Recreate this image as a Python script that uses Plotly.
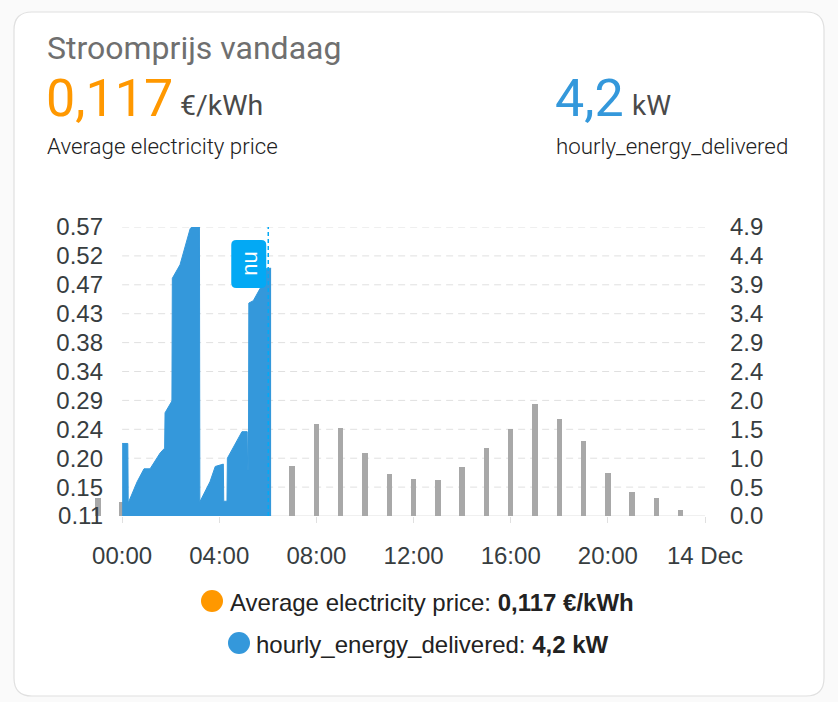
import plotly.graph_objects as go
import pandas as pd

W, H = 838, 702
day_start = pd.Timestamp("2023-12-13 00:00")

# ---- data ----
price_hours = list(range(-1, 24))
price_values = [0.134, 0.128, 0.120, 0.115, 0.112, 0.113, 0.116, 0.117, 0.186, 0.252,
                0.246, 0.207, 0.173, 0.165, 0.164, 0.184, 0.214, 0.245, 0.284, 0.260,
                0.225, 0.174, 0.145, 0.134, 0.115]

energy_minutes = [0, 14, 15, 37, 54, 69, 94, 105, 106, 123, 124, 143, 168, 172, 191, 192,
                  217, 230, 250, 251, 259, 260, 296, 309, 310, 312, 313, 324, 341, 353, 357, 368]
energy_kw = [1.23, 1.23, 0.22, 0.58, 0.80, 0.80, 1.07, 1.15, 1.75, 1.95, 4.03, 4.26, 4.87, 4.90, 4.90, 0.24,
             0.58, 0.84, 0.88, 0.25, 0.25, 0.98, 1.43, 1.43, 0.78, 0.78, 3.61, 3.65, 3.86, 4.09, 4.20, 4.20]

left_tick_labels = ["0.11", "0.15", "0.20", "0.24", "0.29", "0.34", "0.38", "0.43", "0.47", "0.52", "0.57"]
right_tick_labels = ["0.0", "0.5", "1.0", "1.5", "2.0", "2.4", "2.9", "3.4", "3.9", "4.4", "4.9"]
x_tick_labels = ["00:00", "04:00", "08:00", "12:00", "16:00", "20:00", "14 Dec"]
x_tick_hours = [0, 4, 8, 12, 16, 20, 24]
left_min, left_max = 0.106, 0.566
right_min, right_max = 0.0, 4.9
now_minutes = 361

title_text = "Stroomprijs vandaag"
price_now = "0,117"
price_unit = "€/kWh"
price_name = "Average electricity price"
energy_now = "4,2"
energy_unit = "kW"
energy_name = "hourly_energy_delivered"

# ---- helpers ----
def px_x(px):
    return px / W

def px_y(py):
    return 1 - py / H

def rounded_rect(x0, y0, x1, y1, rx, ry):
    return (f"M {x0+rx},{y1} L {x1-rx},{y1} Q {x1},{y1} {x1},{y1-ry} "
            f"L {x1},{y0+ry} Q {x1},{y0} {x1-rx},{y0} L {x0+rx},{y0} "
            f"Q {x0},{y0} {x0},{y0+ry} L {x0},{y1-ry} Q {x0},{y1} {x0+rx},{y1} Z")

TICK_FONT = dict(family="Liberation Sans, Arial", size=24, color="#373d3f")
day_end = day_start + pd.Timedelta(hours=24)
now_time = day_start + pd.Timedelta(minutes=now_minutes)

fig = go.Figure()

fig.add_trace(go.Bar(
    x=[day_start + pd.Timedelta(hours=h) for h in price_hours],
    y=price_values,
    width=0.22 * 3600 * 1000,
    marker=dict(color="#a8a8a8", line=dict(width=0)),
    yaxis="y", xaxis="x", showlegend=False, hoverinfo="skip",
))
fig.add_trace(go.Scatter(
    x=[day_start + pd.Timedelta(minutes=m) for m in energy_minutes],
    y=energy_kw,
    mode="lines", fill="tozeroy",
    line=dict(color="#3498db", width=1),
    fillcolor="#3498db",
    yaxis="y2", xaxis="x", showlegend=False, hoverinfo="skip",
))

shapes = []
shapes.append(dict(type="path", xref="paper", yref="paper", layer="below",
                   path=rounded_rect(px_x(14), px_y(696), px_x(824), px_y(12), 18 / W, 18 / H),
                   fillcolor="white", line=dict(color="#e0e0e0", width=1.2)))
step = (left_max - left_min) / 10
for k in range(1, 11):
    yv = left_min + k * step
    shapes.append(dict(type="line", xref="x", yref="y", x0=day_start, x1=day_end, y0=yv, y1=yv,
                       layer="below", line=dict(color="#e0e0e0", width=1, dash="7px,5px")))
shapes.append(dict(type="line", xref="x", yref="y", x0=day_start, x1=day_end, y0=left_min, y1=left_min,
                   layer="below", line=dict(color="#e0e0e0", width=1)))
shapes.append(dict(type="line", xref="x", yref="paper", x0=now_time, x1=now_time,
                   y0=px_y(516), y1=px_y(227), layer="above",
                   line=dict(color="#03a9f4", width=1.5, dash="4px,3px")))
r = 5
shapes.append(dict(type="path", xref="x", yref="paper", xsizemode="pixel", xanchor=now_time,
                   layer="above",
                   path=rounded_rect(-37, px_y(288), -2, px_y(240), r, r / H),
                   fillcolor="#03a9f4", line=dict(width=0)))
shapes.append(dict(type="circle", xref="paper", yref="paper",
                   x0=px_x(201), x1=px_x(223), y0=px_y(612), y1=px_y(590),
                   fillcolor="#ff9800", line=dict(width=0)))
shapes.append(dict(type="circle", xref="paper", yref="paper",
                   x0=px_x(228), x1=px_x(250), y0=px_y(654), y1=px_y(632),
                   fillcolor="#3498db", line=dict(width=0)))

ann = []
def txt(text, x, y, size, color, family="Roboto", weight=400, xanchor="left", yanchor="middle"):
    ann.append(dict(text=text, x=px_x(x), y=px_y(y), xref="paper", yref="paper",
                    xanchor=xanchor, yanchor=yanchor, showarrow=False,
                    font=dict(family=family, size=size, color=color, weight=weight)))

txt(title_text, 45, 48, 32, "#6f6f6f")
txt(price_now, 44, 99, 52, "#ff9800")
txt(price_unit, 178, 105, 28.5, "#4a4a4a")
txt(price_name, 45, 146, 22.3, "#212121", weight=300)
txt(energy_now, 553, 99, 52, "#3498db")
txt(energy_unit, 630, 105, 28, "#4a4a4a")
txt(energy_name, 554, 146, 22.3, "#212121", weight=300)
txt(f"{price_name}: <b>{price_now} {price_unit}</b>", 228, 602, 24, "#222222", family="Liberation Sans, Arial")
txt(f"{energy_name}: <b>{energy_now} {energy_unit}</b>", 254, 644, 24, "#222222", family="Liberation Sans, Arial")

ann.append(dict(text="nu", x=now_time, xref="x", xshift=-19.5, y=px_y(264), yref="paper",
                textangle=-90, showarrow=False, xanchor="center", yanchor="middle",
                font=dict(family="Liberation Sans, Arial", size=22, color="white")))

fig.update_layout(
    width=W, height=H,
    margin=dict(l=0, r=0, t=0, b=0, pad=0, autoexpand=False),
    paper_bgcolor="#fafafa", plot_bgcolor="rgba(0,0,0,0)",
    bargap=0,
    shapes=shapes, annotations=ann,
    xaxis=dict(domain=[px_x(93), px_x(705)], type="date", automargin=False,
               range=[day_start - pd.Timedelta(hours=1.2), day_end],
               tickvals=[day_start + pd.Timedelta(hours=h) for h in x_tick_hours],
               ticktext=x_tick_labels, ticks="outside", ticklen=6, tickcolor="#e0e0e0",
               tickfont=TICK_FONT, showgrid=False, zeroline=False, showline=False,
               ticklabelstandoff=12, anchor="y"),
    yaxis=dict(domain=[px_y(516), px_y(227)], range=[left_min, left_max], automargin=False,
               tickvals=[left_min + k * step for k in range(11)], ticktext=left_tick_labels,
               anchor="free", position=px_x(103), showgrid=False, zeroline=False, showline=False,
               ticks="", tickfont=TICK_FONT),
    yaxis2=dict(overlaying="y", side="right", range=[right_min, right_max], automargin=False,
                tickvals=[right_min + k * (right_max - right_min) / 10 for k in range(11)],
                ticktext=right_tick_labels,
                anchor="free", position=px_x(729), showgrid=False, zeroline=False, showline=False,
                ticks="", tickfont=TICK_FONT),
)

fig.write_html("out.html")
